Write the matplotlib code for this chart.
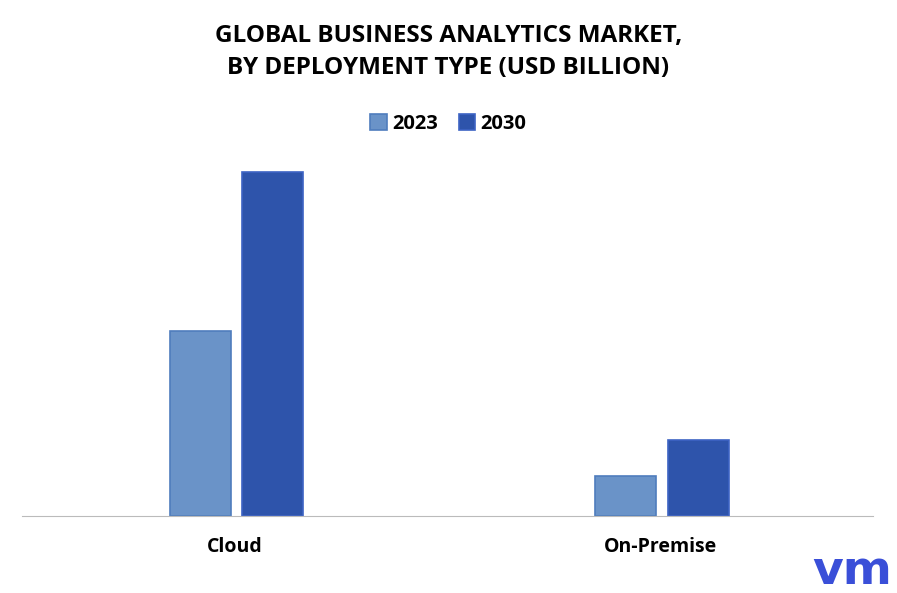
import numpy as np
import matplotlib
matplotlib.use("Agg")
from matplotlib import pyplot as plt

# Data (no axis shown)
categories = ["Cloud", "On-Premise"]
years = ["2023", "2030"]
values_2023 = [185, 40]
values_2030 = [344, 76]

W, H = 897, 593
fig = plt.figure(figsize=(W / 100, H / 100), dpi=100)
# axes spanning x 22..873 px, y baseline 516 px, top 150 px
ax = fig.add_axes([22 / W, 1 - 516 / H, 851 / W, (516 - 150) / H])

x = np.arange(len(categories))
width = 0.143
off = 0.085
ax.bar(x - off + 0.004, values_2023, width, color="#6a93c8", edgecolor="#4f7dbd", linewidth=1.2, label=years[0])
ax.bar(x + off + 0.004, values_2030, width, color="#2e54ab", edgecolor="#3d63c4", linewidth=1.2, label=years[1])

ax.set_xlim(-0.5, 1.5)
ax.set_ylim(0, 366)
ax.set_yticks([])
ax.set_xticks(x)
ax.set_xticklabels(categories, fontsize=14, fontweight="bold", fontfamily="Open Sans")
ax.tick_params(axis="x", length=0, pad=15)
for s in ["top", "right", "left"]:
    ax.spines[s].set_visible(False)
ax.spines["bottom"].set_color("#bbbbbb")

fig.text(0.5, 1 - 52 / H, "GLOBAL BUSINESS ANALYTICS MARKET,\nBY DEPLOYMENT TYPE (USD BILLION)",
         ha="center", va="center", fontsize=17.5, fontweight="bold", fontfamily="Open Sans",
         linespacing=1.4)
fig.legend(loc="center", bbox_to_anchor=(0.5, 1 - 124 / H), ncol=2, frameon=False,
           prop={"family": "Open Sans", "weight": "bold", "size": 14.5},
           handlelength=0.8, handleheight=0.8, handletextpad=0.3, columnspacing=1.0)

fig.text(852 / W, 1 - 572 / H, "vm", ha="center", va="center", fontsize=34,
         fontweight="bold", color="#3a4fd8", fontfamily="DejaVu Sans")

fig.savefig("out.png", dpi=100)
